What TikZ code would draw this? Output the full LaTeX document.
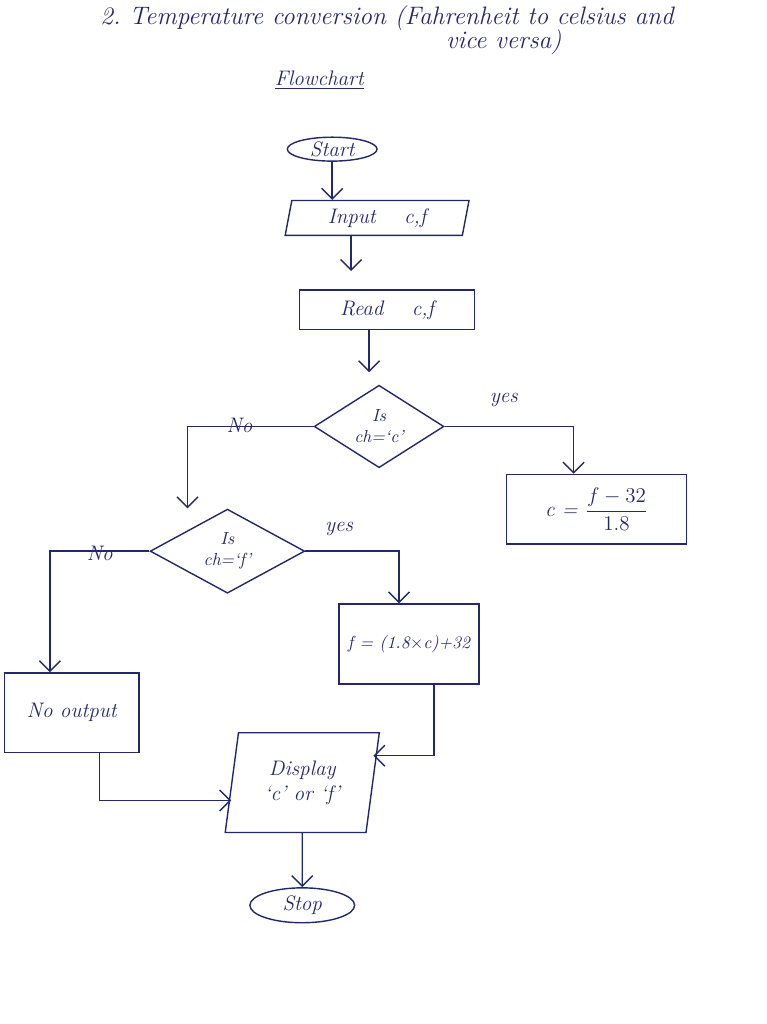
\documentclass[tikz,border=0pt]{standalone}
\usetikzlibrary{shapes.geometric,arrows.meta}
\definecolor{ink}{RGB}{35,40,110}
\begin{document}
\begin{tikzpicture}[x=0.02cm,y=-0.02cm,
  every node/.style={text=ink,font=\itshape\large},
  arr/.style={draw=ink,thick,-{Straight Barb[length=6pt]}},
  box/.style={draw=ink,thick,rectangle,inner sep=1pt},
  io/.style={draw=ink,thick,trapezium,trapezium left angle=80,trapezium right angle=100,inner sep=1pt,trapezium stretches=true},
  term/.style={draw=ink,thick,ellipse,inner sep=0pt},
  dec/.style={draw=ink,thick,diamond,inner sep=0pt,align=center,font=\itshape\normalsize}]
\fill[white] (0,0) rectangle (768,1024);
\node[font=\itshape\Large] (t1) at (388,16) {2.\ Temperature conversion (Fahrenheit to celsius and};
\node[font=\itshape\Large] (t2) at (505,40) {vice versa)};
\node (fc) at (320,78) {\underline{Flowchart}};
\node[term,minimum width=1.8cm,minimum height=0.48cm] (start) at (333,147) {Start};
\node[io,minimum width=3.7cm,minimum height=0.7cm] (in) at (378,216) {Input \quad c,f};
\node[box,minimum width=3.5cm,minimum height=0.8cm] (rd) at (388,308) {Read \quad c,f};
\node[dec,minimum width=2.6cm,minimum height=1.5cm] (d1) at (380,425) {Is\\ ch=`c'};
\node[box,minimum width=3.6cm,minimum height=1.4cm] (c) at (598,508) {c = $\displaystyle\frac{f-32}{1.8}$};
\node[dec,minimum width=3.1cm,minimum height=1.6cm] (d2) at (228,550) {Is\\ ch=`f'};
\node[box,minimum width=2.8cm,minimum height=1.6cm,font=\itshape] (f) at (410,643) {f = (1.8$\times$c)+32};
\node[box,minimum width=2.7cm,minimum height=1.6cm] (no) at (72,712) {No output};
\node[io,minimum width=3.1cm,minimum height=2.0cm,align=center] (dp) at (303,782) {Display\\ `c' or `f'};
\node[term,minimum width=2.1cm,minimum height=0.7cm] (stop) at (303,905) {Stop};
\draw[arr] (start.south) -- (start.south |- in.north);
\draw[arr] ([xshift=-0.52cm]in.south) -- ++(0,35);
\draw[arr] ([xshift=-0.36cm]rd.south) -- ++(0,42);
\coordinate (y1) at (575,408);
\draw[arr] (d1.east) -- (d1.east -| y1) -- (c.north -| y1);
\node (yes1) at (505,398) {yes};
\coordinate (n1) at (188,432);
\draw[arr] (d1.west) -- (d1.west -| n1) -- (d2.north -| n1);
\node (no1) at (240,424) {No};
\coordinate (y2) at (400,540);
\draw[arr] (d2.east) -- (d2.east -| y2) -- (f.north -| y2);
\node (yes2) at (340,528) {yes};
\coordinate (n2) at (50,565);
\draw[arr] (d2.west) -- (d2.west -| n2) -- (no.north -| n2);
\node (no2) at (100,552) {No};
\coordinate (b1) at (100,800);
\draw[arr] (no.south -| b1) -- (b1) -- (dp.west |- b1);
\coordinate (b2) at (435,755);
\draw[arr] (f.south -| b2) -- (b2) -- (dp.east |- b2);
\draw[arr] (dp) -- (stop);
\end{tikzpicture}
\end{document}
